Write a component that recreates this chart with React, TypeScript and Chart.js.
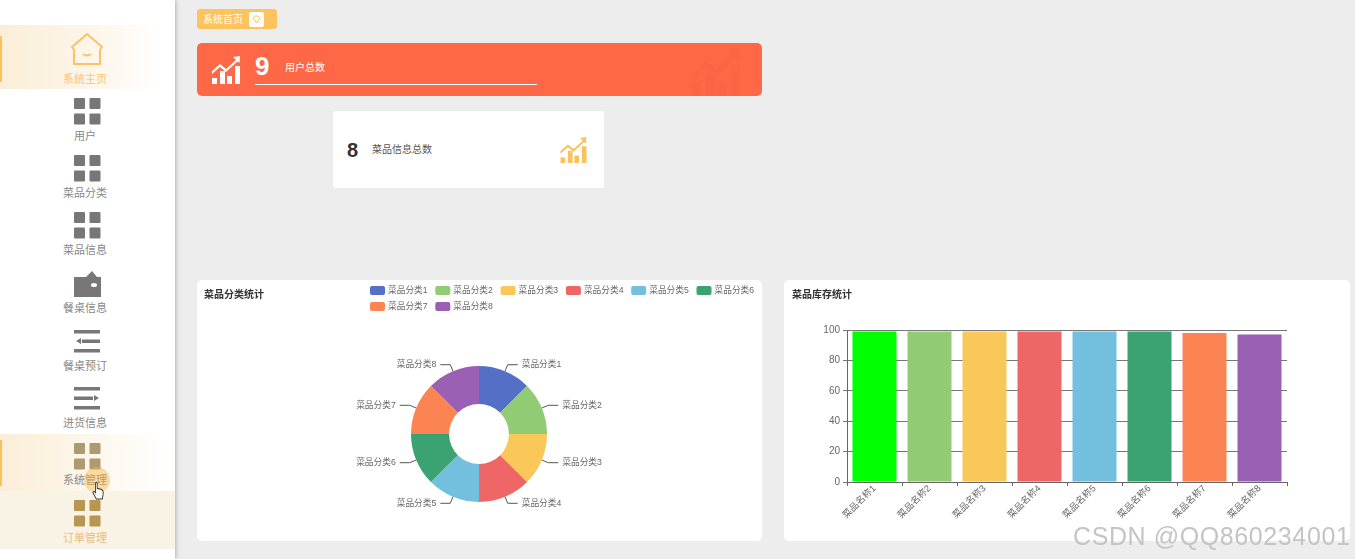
import { useEffect, useRef } from "react";
import { Chart, registerables } from "chart.js";

Chart.register(...registerables);

const FONT = '"Liberation Sans", "Noto Sans CJK SC", sans-serif';

const categoryNames = ["菜品分类1", "菜品分类2", "菜品分类3", "菜品分类4", "菜品分类5", "菜品分类6", "菜品分类7", "菜品分类8"];
const categoryCounts = [1, 1, 1, 1, 1, 1, 1, 1];
const categoryColors = ["#5470c6", "#91cc75", "#fac858", "#ee6666", "#73c0de", "#3ba272", "#fc8452", "#9a60b4"];

const stockNames = ["菜品名称1", "菜品名称2", "菜品名称3", "菜品名称4", "菜品名称5", "菜品名称6", "菜品名称7", "菜品名称8"];
const stockValues = [99, 99, 99, 99, 99, 99, 98, 97];
const stockColors = ["#00ff00", "#91cc75", "#fac858", "#ee6666", "#73c0de", "#3ba272", "#fc8452", "#9a60b4"];
const stockTicks = [0, 20, 40, 60, 80, 100];

// echarts-style legend: fixed left edge, six items a row
const legendPlugin = {
  id: "rowLegend",
  afterDraw(chart: any) {
    const { ctx } = chart;
    const colors = chart.data.datasets[0].backgroundColor;
    ctx.save();
    ctx.font = `8.7px ${FONT}`;
    ctx.textBaseline = "middle";
    ctx.textAlign = "left";
    chart.data.labels.forEach((label: string, i: number) => {
      const x = 173 + (i % 6) * 65.3;
      const y = 10.5 + Math.floor(i / 6) * 16;
      ctx.fillStyle = colors[i];
      ctx.beginPath();
      ctx.roundRect(x, y - 4.5, 15, 9, 2);
      ctx.fill();
      ctx.fillStyle = "#666";
      ctx.fillText(label, x + 18, y);
    });
    ctx.restore();
  },
};

// outside labels with a bent leader line for each slice
const sliceLabelPlugin = {
  id: "sliceLabels",
  afterDraw(chart: any) {
    const { ctx } = chart;
    const arcs = chart.getDatasetMeta(0).data;
    ctx.save();
    ctx.font = `8.7px ${FONT}`;
    ctx.textBaseline = "middle";
    ctx.lineWidth = 1;
    arcs.forEach((arc: any, i: number) => {
      const { x, y, startAngle, endAngle, outerRadius } = arc.getProps(["x", "y", "startAngle", "endAngle", "outerRadius"], true);
      const mid = (startAngle + endAngle) / 2;
      const cos = Math.cos(mid);
      const sin = Math.sin(mid);
      const dir = cos >= 0 ? 1 : -1;
      const ex = x + cos * (outerRadius + 7);
      const ey = y + sin * (outerRadius + 7);
      ctx.strokeStyle = "#555";
      ctx.beginPath();
      ctx.moveTo(x + cos * outerRadius, y + sin * outerRadius);
      ctx.lineTo(ex, ey);
      ctx.lineTo(ex + dir * 10, ey);
      ctx.stroke();
      ctx.fillStyle = "#666";
      ctx.textAlign = dir > 0 ? "left" : "right";
      ctx.fillText(chart.data.labels[i], ex + dir * 14, ey);
    });
    ctx.restore();
  },
};

function CategoryChart() {
  const ref = useRef<HTMLCanvasElement>(null);
  useEffect(() => {
    if (!ref.current) return;
    const chart = new Chart(ref.current, {
      type: "doughnut",
      data: {
        labels: categoryNames,
        datasets: [{ data: categoryCounts, backgroundColor: categoryColors, borderWidth: 0 }],
      },
      options: {
        responsive: false,
        animation: false,
        cutout: "44%",
        layout: { padding: { left: 214, right: 215, top: 86, bottom: 38 } },
        plugins: { legend: { display: false }, tooltip: { enabled: false } },
      },
      plugins: [legendPlugin, sliceLabelPlugin],
    });
    return () => chart.destroy();
  }, []);
  return <canvas ref={ref} width={565} height={260} style={{ position: "absolute", left: 0, top: 0 }} />;
}

function StockChart() {
  const ref = useRef<HTMLCanvasElement>(null);
  useEffect(() => {
    if (!ref.current) return;
    const chart = new Chart(ref.current, {
      type: "bar",
      data: {
        labels: stockNames,
        datasets: [{ data: stockValues, backgroundColor: stockColors, barPercentage: 0.8, categoryPercentage: 1 }],
      },
      options: {
        responsive: false,
        animation: false,
        layout: { autoPadding: false, padding: { top: 50, right: 60 } },
        plugins: { legend: { display: false }, tooltip: { enabled: false } },
        scales: {
          x: {
            afterFit: (s: any) => { s.height = 58; },
            grid: { drawOnChartArea: false, color: "#666", tickLength: 4 },
            border: { color: "#666" },
            ticks: { color: "#666", font: { family: FONT, size: 9.3 }, minRotation: 45, maxRotation: 45, padding: -3 },
          },
          y: {
            min: 0,
            max: 100,
            afterFit: (s: any) => { s.width = 63; },
            afterBuildTicks: (s: any) => { s.ticks = stockTicks.map((value) => ({ value })); },
            grid: { color: "#777", tickLength: 4 },
            border: { color: "#666" },
            ticks: { color: "#666", font: { family: FONT, size: 10 }, padding: 3 },
          },
        },
      },
    });
    return () => chart.destroy();
  }, []);
  return <canvas ref={ref} width={563} height={260} style={{ position: "absolute", left: 0, top: 0 }} />;
}

function box(left: number, top: number, width: number, height: number, extra: any = {}) {
  return { position: "absolute", left, top, width, height, ...extra } as any;
}

function Label({ x, y, size, color, bold, children, center }: any) {
  return (
    <div style={{
      position: "absolute", left: x, top: y, lineHeight: "16px", marginTop: -8, fontSize: size, color, whiteSpace: "nowrap",
      fontWeight: bold ? 700 : 400, fontFamily: FONT, transform: center ? "translateX(-50%)" : undefined,
    }}>{children}</div>
  );
}

function Squares({ y, color }: any) {
  return (
    <svg style={box(74, y, 27, 27)} viewBox="0 0 27 27" fill={color}>
      <rect x="0" y="0" width="11" height="11" rx="1" /><rect x="15.5" y="0" width="11" height="11" rx="1" />
      <rect x="0" y="15.5" width="11" height="11" rx="1" /><rect x="15.5" y="15.5" width="11" height="11" rx="1" />
    </svg>
  );
}

function TrendIcon({ x, y, w, h, color }: any) {
  return (
    <svg style={box(x, y, w, h)} viewBox="0 0 28 28" fill={color}>
      <path d="M0 15 L8 8 L14 13 L24 4 L21 1 L28 0 L27.5 7 L25.5 5.5 L14 16 L8 11 L0 18Z" />
      <rect x="0" y="22" width="5" height="6" /><rect x="8" y="15" width="5" height="13" />
      <rect x="15" y="20" width="5" height="8" /><rect x="23" y="10" width="5" height="18" />
    </svg>
  );
}

const GREY = "#777";

export default function App() {
  return (
    <div style={box(0, 0, 1355, 559, { background: "#ededed", overflow: "hidden", fontFamily: FONT, filter: "blur(0.4px)" })}>
      {/* sidebar */}
      <div style={box(0, 0, 175, 559, { background: "#fff", boxShadow: "1px 0 4px rgba(0,0,0,.25)" })} />
      <div style={box(0, 25, 158, 64, { background: "linear-gradient(90deg,#fbeed8,#fdf6ea 60%,#fff)" })} />
      <div style={box(0, 36, 1.5, 46, { background: "#fdc05a" })} />
      <div style={box(0, 434, 168, 57, { background: "linear-gradient(90deg,#fbeed8,#fdf6ea 50%,#fff)" })} />
      <div style={box(0, 440, 1.5, 46, { background: "#fdc05a" })} />
      <div style={box(0, 491, 175, 58, { background: "#f9f3e6" })} />

      <svg style={box(71, 33, 32, 33)} viewBox="0 0 32 33" fill="none" stroke="#fbc269" strokeWidth="2">
        <path d="M1 14 L16 1 L31 14 L29 17 L29 31 L3 31 L3 17Z" />
        <path d="M12 21 Q16 24 20 21" />
      </svg>
      <Label x={85} y={79} size={11} color="#fcc473" center>系统主页</Label>

      <Squares y={98} color={GREY} />
      <Label x={85} y={136} size={11} color="#888" center>用户</Label>
      <Squares y={155} color={GREY} />
      <Label x={85} y={193} size={11} color="#888" center>菜品分类</Label>
      <Squares y={212} color={GREY} />
      <Label x={85} y={250} size={11} color="#888" center>菜品信息</Label>

      <svg style={box(74, 270, 27, 27)} viewBox="0 0 27 27" fill={GREY}>
        <path d="M0 7 L12 7 L18 1 L23 7 L27 7 L27 27 L0 27Z" />
        <ellipse cx="20" cy="15" rx="3" ry="2" fill="#fff" />
      </svg>
      <Label x={85} y={308} size={11} color="#888" center>餐桌信息</Label>

      <svg style={box(74, 330, 27, 23)} viewBox="0 0 27 23" fill={GREY}>
        <rect width="26" height="3.5" /><rect y="19" width="26" height="3.5" />
        <rect x="8" y="9.5" width="18" height="3.5" /><path d="M2 11 L7 8 L7 14Z" />
      </svg>
      <Label x={85} y={366} size={11} color="#888" center>餐桌预订</Label>

      <svg style={box(74, 387, 27, 23)} viewBox="0 0 27 23" fill={GREY}>
        <rect width="26" height="3.5" /><rect y="19" width="26" height="3.5" />
        <rect y="9.5" width="19" height="3.5" /><path d="M25 11 L20 8 L20 14Z" />
      </svg>
      <Label x={85} y={423} size={11} color="#888" center>进货信息</Label>

      <Squares y={443} color="#ad9a70" />
      <Label x={85} y={480} size={11} color="#8a8a8a" center>系统管理</Label>
      <Squares y={500} color="#b89550" />
      <Label x={85} y={538} size={11} color="#e8bd82" center>订单管理</Label>

      {/* cursor */}
      <div style={box(84, 467, 26, 26, { borderRadius: "50%", background: "rgba(250,180,70,.45)" })} />
      <svg style={box(92, 481, 13, 19)} viewBox="0 0 15 18" preserveAspectRatio="none" fill="#fff" stroke="#333" strokeWidth="1">
        <path d="M4 10 L4 2 Q5 0.5 6 2 L6 7 L11 8 Q13 9 13 11 L12 17 L5 17 L1 11 Q2 9 4 11Z" />
      </svg>

      {/* breadcrumb */}
      <div style={box(197, 9, 80, 20, { background: "#fdc35e", borderRadius: 3 })} />
      <Label x={203} y={20} size={10} color="#fff">系统首页</Label>
      <div style={box(249, 12, 15, 15, { background: "#fff", borderRadius: 2 })} />
      <svg style={box(252, 15, 9, 9)} viewBox="0 0 9 9" fill="none" stroke="#fdc35e"><path d="M1 3 L3 1 L6 1 L8 3 L4.5 8Z" /></svg>

      {/* totals */}
      <div style={box(197, 43, 565, 53, { background: "#ff6846", borderRadius: 5 })} />
      <TrendIcon x={212} y={56} w={28} h={28} color="#fff" />
      <Label x={255} y={66} size={26} color="#fff" bold>9</Label>
      <Label x={285} y={68} size={10} color="#fff">用户总数</Label>
      <div style={box(255, 83.5, 282, 1.5, { background: "#fff" })} />
      <svg style={box(690, 48, 52, 48)} viewBox="0 0 28 28" fill="#fb6445">
        <path d="M0 15 L8 8 L14 13 L24 4 L21 1 L28 0 L27.5 7 L25.5 5.5 L14 16 L8 11 L0 18Z" />
        <rect x="0" y="20" width="5" height="8" /><rect x="8" y="15" width="5" height="13" />
        <rect x="15" y="20" width="5" height="8" /><rect x="23" y="10" width="5" height="18" />
      </svg>

      <div style={box(333, 111, 271, 77, { background: "#fff", borderRadius: 3 })} />
      <Label x={347} y={150} size={20} color="#333" bold>8</Label>
      <Label x={372} y={150} size={10} color="#555">菜品信息总数</Label>
      <TrendIcon x={560} y={137} w={27} h={26} color="#fbc15a" />

      {/* chart cards */}
      <div style={box(197, 280, 565, 261, { background: "#fff", borderRadius: 5 })}>
        <CategoryChart />
        <Label x={7} y={15} size={10} color="#333" bold>菜品分类统计</Label>
      </div>
      <div style={box(784, 280, 566, 261, { background: "#fff", borderRadius: 5 })}>
        <StockChart />
        <Label x={8} y={15} size={10} color="#333" bold>菜品库存统计</Label>
      </div>

      <div style={{ position: "absolute", left: 1073, top: 519, lineHeight: "34px", fontSize: 25, letterSpacing: 0.6, color: "#c4c4c4", whiteSpace: "nowrap", fontFamily: FONT }}>CSDN @QQ860234001</div>
    </div>
  );
}
